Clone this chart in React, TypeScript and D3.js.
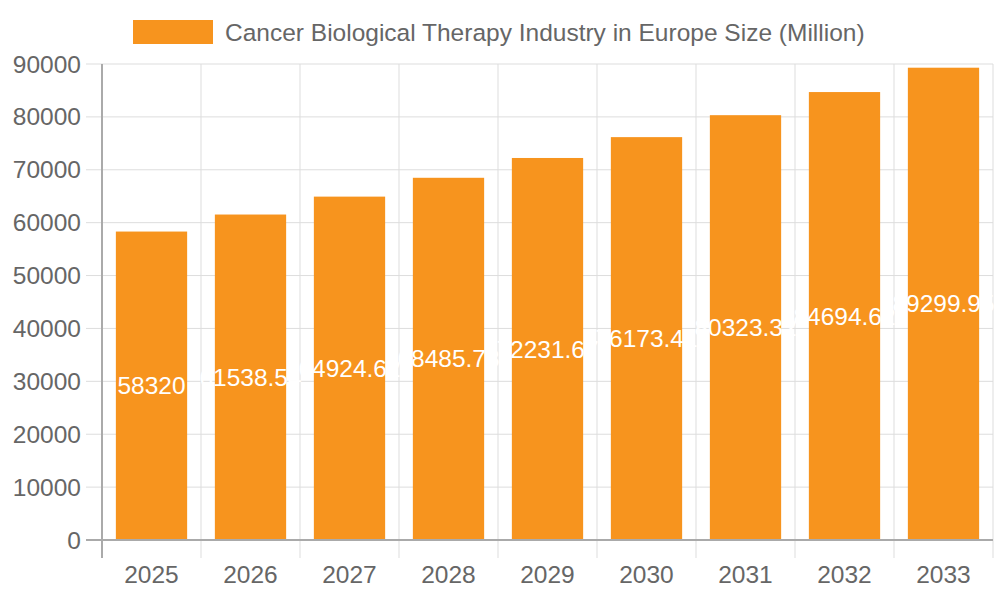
import React from 'react';
import * as d3 from 'd3';

const years = ['2025', '2026', '2027', '2028', '2029', '2030', '2031', '2032', '2033'];
const sizes = [58320, 61538.54, 64924.62, 68485.73, 72231.67, 76173.41, 80323.32, 84694.62, 89299.95];
const yTicks = [0, 10000, 20000, 30000, 40000, 50000, 60000, 70000, 80000, 90000];
const legendLabel = 'Cancer Biological Therapy Industry in Europe Size (Million)';

const W = 1000;
const H = 600;
const margin = { top: 64, right: 7, bottom: 60, left: 102 };
const barColor = '#f7941e';
const gridColor = '#dddddd';
const axisColor = '#aaaaaa';
const textColor = '#666666';
const font = '"Liberation Sans", Arial, Helvetica, sans-serif';
const fs = 24.5;

const App: React.FC = () => {
    const innerW = W - margin.left - margin.right;
    const innerH = H - margin.top - margin.bottom;

    const x = d3.scaleBand().domain(years).range([0, innerW]).paddingInner(0).paddingOuter(0);
    const y = d3.scaleLinear().domain([0, 90000]).range([innerH, 0]);

    const barW = x.bandwidth() * 0.72;

    return (
        <svg
            width={W}
            height={H}
            style={{ position: 'absolute', left: 0, top: 0, background: '#fff' }}
            fontFamily={font}
        >
            {/* legend */}
            <rect x={133} y={20} width={80} height={24} fill={barColor} />
            <text x={225} y={32} dy="0.35em" fontSize={fs} fill={textColor}>{legendLabel}</text>

            <g transform={`translate(${margin.left},${margin.top})`}>
                {/* horizontal grid + y ticks */}
                {yTicks.map(t => (
                    <g key={t} transform={`translate(0,${y(t)})`}>
                        <line x1={-16} x2={innerW} stroke={gridColor} strokeWidth={1} />
                        <text x={-21} dy="0.35em" textAnchor="end" fontSize={fs} fill={textColor}>{t}</text>
                    </g>
                ))}
                {/* vertical grid + x ticks */}
                {years.map(yr => (
                    <line key={yr} x1={x(yr)!} x2={x(yr)!} y1={0} y2={innerH + 18} stroke={gridColor} strokeWidth={1} />
                ))}
                <line x1={innerW} x2={innerW} y1={0} y2={innerH + 18} stroke={gridColor} strokeWidth={1} />

                {/* bars */}
                {sizes.map((v, i) => (
                    <rect
                        key={years[i]}
                        x={x(years[i])! + (x.bandwidth() - barW) / 2}
                        y={y(v)}
                        width={barW}
                        height={innerH - y(v)}
                        fill={barColor}
                    />
                ))}

                {/* axes */}
                <line x1={0} x2={0} y1={0} y2={innerH + 18} stroke={axisColor} strokeWidth={2} />
                <line x1={-16} x2={innerW} y1={innerH} y2={innerH} stroke={axisColor} strokeWidth={2} />

                {/* x labels */}
                {years.map(yr => (
                    <text key={yr} x={x(yr)! + x.bandwidth() / 2} y={innerH + 43} textAnchor="middle" fontSize={fs} fill={textColor}>{yr}</text>
                ))}

                {/* value labels */}
                {sizes.map((v, i) => (
                    <text
                        key={years[i]}
                        x={x(years[i])! + x.bandwidth() / 2}
                        y={(y(v) + innerH) / 2}
                        dy="0.35em"
                        textAnchor="middle"
                        fontSize={fs}
                        fill="#ffffff"
                    >
                        {String(v)}
                    </text>
                ))}
            </g>
        </svg>
    );
};

export default App;
